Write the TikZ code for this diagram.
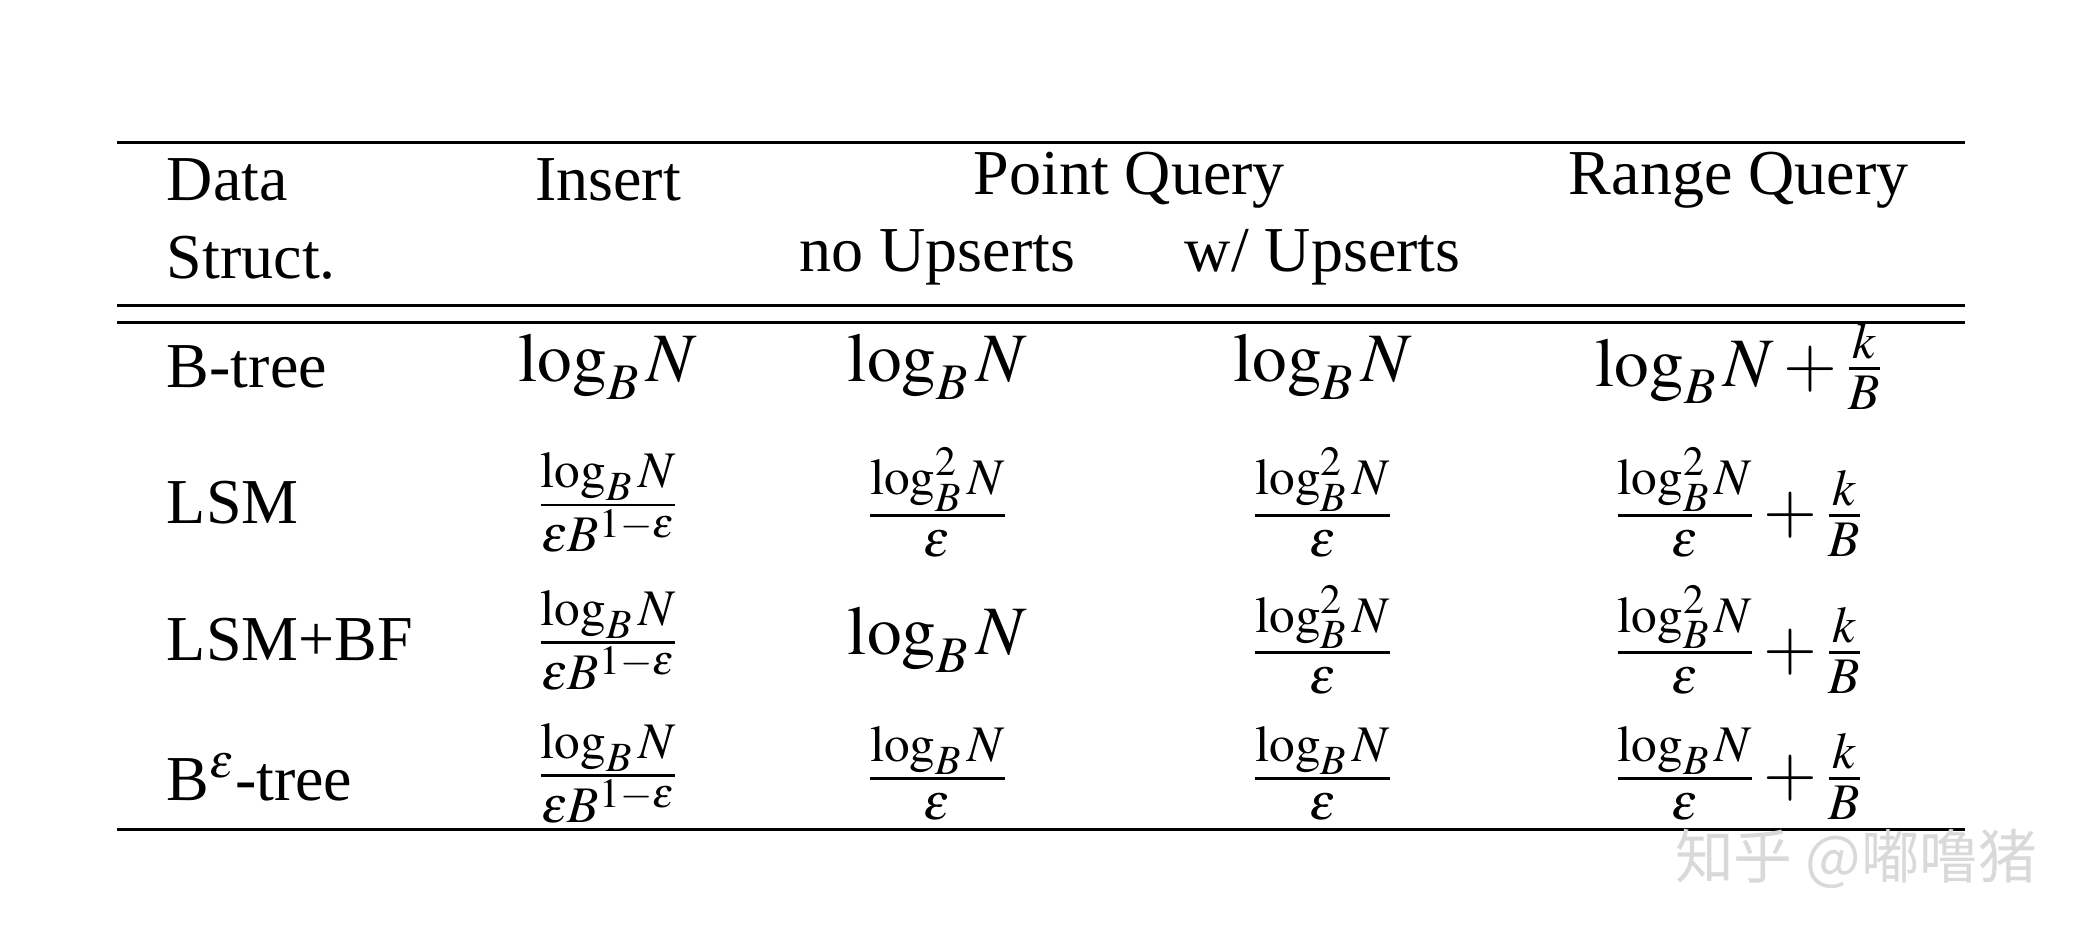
\documentclass[tikz,border=0pt]{standalone}
\usepackage{mathptmx}
\usepackage{fontspec}
\setmainfont{Liberation Serif}
\newfontfamily\cjk{Noto Sans CJK SC}
\begin{document}
\begin{tikzpicture}[x=1pt,y=-1pt,
  cell/.style={anchor=center,inner sep=0pt,font=\fontsize{48}{56}\selectfont},
  mth/.style={anchor=center,inner sep=0pt,font=\fontsize{52}{60}\selectfont},
  frc/.style={anchor=center,inner sep=0pt,font=\fontsize{52}{60}\selectfont},
  lft/.style={anchor=west,inner sep=0pt,font=\fontsize{48}{56}\selectfont},
  rule/.style={line width=2.2pt}]
\useasboundingbox (0,0) rectangle (1560,700.5);
\draw[rule] (88,107) -- (1474,107);
\draw[rule] (88,229) -- (1474,229);
\draw[rule] (88,242) -- (1474,242);
\draw[rule] (88,622) -- (1474,622);
\node[lft] (h1) at (125,135) {Data};
\node[lft] (h2) at (125,193) {Struct.};
\node[cell] (hi) at (456,135) {Insert};
\node[cell] (hp) at (847,135) {Point Query};
\node[cell] (hn) at (703,193) {no Upserts};
\node[cell] (hw) at (992,193) {w/ Upserts};
\node[cell] (hr) at (1304,135) {Range Query};
% rows
\node[lft] (r1) at (125,275) {B-tree};
\node[lft] (r2) at (125,377) {LSM};
\node[lft] (r3) at (125,480) {LSM+BF};
\node[lft] (r4) at (125,583) {B$^{\varepsilon}$-tree};
\node[mth] (a1) at (456,275) {$\log_B N$};
\node[mth] (b1) at (703,275) {$\log_B N$};
\node[mth] (c1) at (992,275) {$\log_B N$};
\node[mth] (d1) at (1304,275) {$\log_B N + \frac{k}{B}$};
\node[frc] (a2) at (456,377) {$\frac{\log_B N}{\varepsilon B^{1-\varepsilon}}$};
\node[frc] (b2) at (703,377) {$\frac{\log_B^2 N}{\varepsilon}$};
\node[frc] (c2) at (992,377) {$\frac{\log_B^2 N}{\varepsilon}$};
\node[frc] (d2) at (1304,377) {$\frac{\log_B^2 N}{\varepsilon} + \frac{k}{B}$};
\node[frc] (a3) at (456,480) {$\frac{\log_B N}{\varepsilon B^{1-\varepsilon}}$};
\node[mth] (b3) at (703,480) {$\log_B N$};
\node[frc] (c3) at (992,480) {$\frac{\log_B^2 N}{\varepsilon}$};
\node[frc] (d3) at (1304,480) {$\frac{\log_B^2 N}{\varepsilon} + \frac{k}{B}$};
\node[frc] (a4) at (456,580) {$\frac{\log_B N}{\varepsilon B^{1-\varepsilon}}$};
\node[frc] (b4) at (703,580) {$\frac{\log_B N}{\varepsilon}$};
\node[frc] (c4) at (992,580) {$\frac{\log_B N}{\varepsilon}$};
\node[frc] (d4) at (1304,580) {$\frac{\log_B N}{\varepsilon} + \frac{k}{B}$};
\node[anchor=east,inner sep=0pt,text=black!15,font=\cjk\fontsize{44}{50}\selectfont] (wm) at (1528,644) {知乎 @嘟噜猪};
\end{tikzpicture}
\end{document}
